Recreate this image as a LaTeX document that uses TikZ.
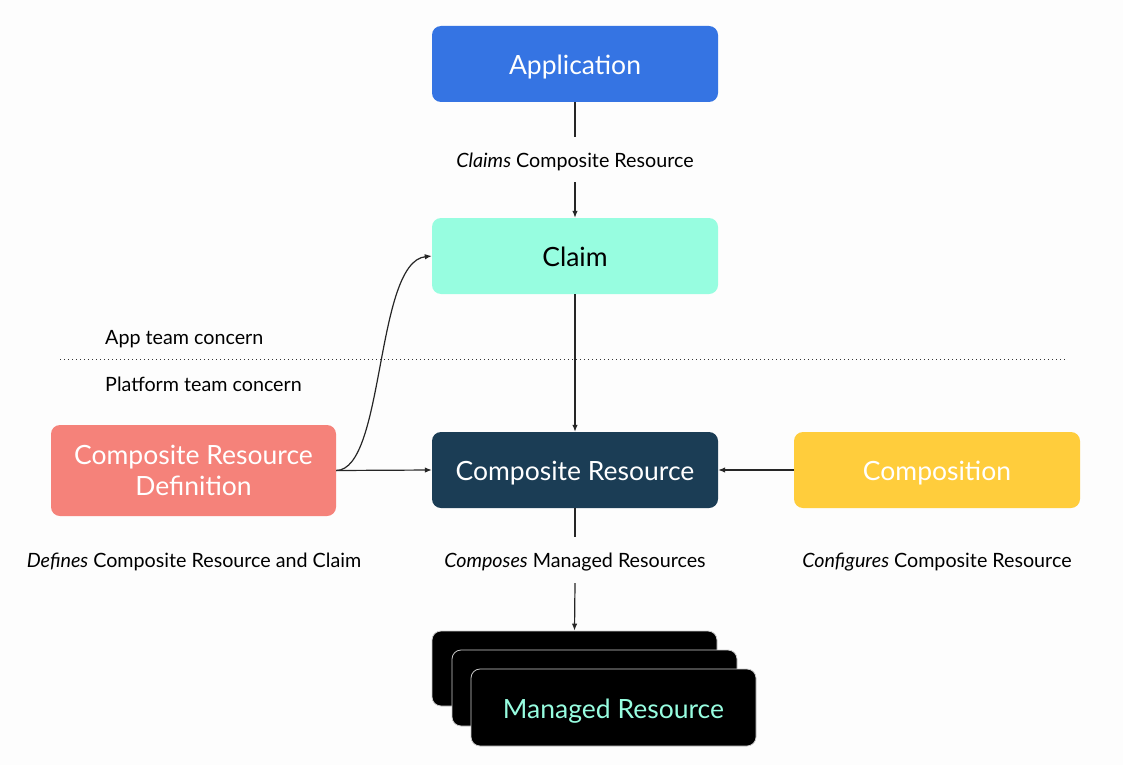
\documentclass[tikz,border=0pt]{standalone}
\usepackage{fontspec}
\setmainfont{Lato}
\usetikzlibrary{arrows.meta}
\definecolor{bg}{HTML}{FDFDFD}
\definecolor{appblue}{HTML}{3574E3}
\definecolor{claimgreen}{HTML}{97FDE0}
\definecolor{compnavy}{HTML}{1B3D55}
\definecolor{crdred}{HTML}{F5827A}
\definecolor{compyellow}{HTML}{FFCD3C}
\definecolor{mrtext}{HTML}{97FDE0}
\tikzset{
  box/.style={rounded corners=9pt, minimum width=286pt, minimum height=76pt, inner sep=0pt, font=\fontsize{26.5}{31}\selectfont, align=center},
  one/.style={text height=26pt, text depth=5pt},
  mrbox/.style={box, fill=black, draw=white!80!black, line width=0.8pt},
  lbl/.style={font=\fontsize{19.7}{23}\selectfont, inner sep=0pt},
  conn/.style={line width=1.2pt, draw=black!85},
  arr/.style={conn, -{Latex[length=7pt,width=5.5pt]}},
}
\begin{document}
\begin{tikzpicture}[x=1pt,y=-1pt]
\fill[bg] (0,0) rectangle (1123,765);
\useasboundingbox (0,0) rectangle (1123,765);

\node[box, one, fill=appblue, text=white] (app) at (575,64) {Application};
\node[box, one, fill=claimgreen, text=black] (claim) at (575,256) {Claim};
\node[box, one, fill=compnavy, text=white] (xr) at (575,470) {Composite Resource};
\node[box, fill=crdred, text=white, minimum height=91pt, minimum width=285pt] (crd) at (193.5,470.5) {Composite Resource\\Definition};
\node[box, one, fill=compyellow, text=white] (comp) at (937,470) {Composition};

\node[mrbox, minimum width=285pt, minimum height=75pt] (mr1) at (574.5,668.5) {};
\node[mrbox, minimum width=285pt, minimum height=76pt] (mr2) at (594.5,688) {};
\node[mrbox, one, minimum width=285pt, minimum height=77pt, text=mrtext] (mr3) at (613.5,707.5) {Managed Resource};

\node[lbl] (claimslbl) at (575,162) {\textit{Claims} Composite Resource};
\node[lbl] (composeslbl) at (575,562) {\textit{Composes} Managed Resources};
\node[lbl] (defineslbl) at (194,562) {\textit{Defines} Composite Resource and Claim};
\node[lbl] (configlbl) at (937,562) {\textit{Configures} Composite Resource};
\node[lbl, anchor=west] (applbl) at (105,339) {App team concern};
\node[lbl, anchor=west] (platlbl) at (105,384) {Platform team concern};

\coordinate (d1) at (60,359);
\coordinate (d2) at (1068,359);
\draw[line width=1pt, dash pattern=on 1pt off 3pt, draw=black!80] (d1) -- (d2);

\coordinate (c1a) at (575,137);
\coordinate (c1b) at (575,182);
\coordinate (c2a) at (575,537);
\coordinate (c2b) at (575,583);
\draw[conn] (app.south) -- (c1a);
\draw[arr] (c1b) -- (claim.north);
\draw[arr] (claim.south) -- (xr.north);
\draw[conn] (xr.south) -- (c2a);
\draw[arr] (c2b) -- (mr1.north);
\draw[arr] (crd.east) -- (xr.west);
\draw[arr] (comp.west) -- (xr.east);
\draw[arr] (crd.east) .. controls (385,470) and (375,262) .. (claim.west);
\end{tikzpicture}
\end{document}
